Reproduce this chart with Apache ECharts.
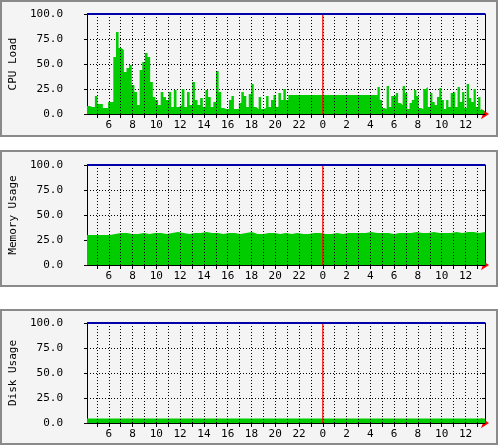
<!DOCTYPE html>
<html><head><meta charset="utf-8">
<script src="https://cdn.jsdelivr.net/npm/echarts@6/dist/echarts.min.js"></script>
<style>html,body{margin:0;padding:0;background:#fff}#c{width:500px;height:445px}</style>
</head><body><div id="c"></div>
<script>
const START_HOUR = 4.17;
const END_HOUR = 37.64;
const MIDNIGHT = 24;
const hourTicks = [5,6,7,8,9,10,11,12,13,14,15,16,17,18,19,20,21,22,23,24,25,26,27,28,29,30,31,32,33,34,35,36,37];
const hourLabels = [6,8,10,12,14,16,18,20,22,24,26,28,30,32,34,36];
const panelTitles = ["CPU Load", "Memory Usage", "Disk Usage"];

// CPU load segments: [startHour, endHour, values]
const cpuMorning = [8,7,7,18,10,10,6,6,12,12,57,82,66,64,42,46,49,29,22,9,44,52,61,57,32,17,14,9,22,17,14,22,7,24,7,9,25,7,22,9,32,14,9,16,7,24,17,7,12,43,22,6,5];
const cpuEvening = [5,14,18,5,5,11,22,18,7,20,30,7,5,17,5,6,18,7,14,19,7,21,14,25,14];
const cpuNight = [19,19,19,19,19,19,19,19,19,19];
const cpuNextDay = [27,14,6,5,28,7,18,18,21,11,9,28,21,5,11,14,24,18,6,5,25,27,7,21,12,9,17,26,14,5,14,7,21,22,7,27,12,22,6,30,16,12,25,7,17,4,2];
const cpuSegments = [[4.17,15.9,cpuMorning],[15.9,21.1,cpuEvening],[21.1,28.6,cpuNight],[28.6,37.64,cpuNextDay]];
const memUsage = [30,30,30,30,31,32,32,31,31,32,31,32,32,31,32,33,32,31,32,32,33,32,32,31,32,32,31,32,33,31,31,32,32,31,
 32,31,32,31,31,32,32,31,31,32,31,32,32,32,32,33,32,32,32,31,32,32,32,33,32,32,33,32,32,32,33,32,33,33,32,33];
const diskUsage = [4.5,4.5,4.5,4.5,4.5,4.5,4.5,4.5,4.5,4.5,4.5,4.5,4.5,4.5,4.5,4.5,4.5,4.5,4.5,4.5];

function segPairs(segs){
  const out=[];
  segs.forEach(([a,b,arr])=>{const st=(b-a)/arr.length; arr.forEach((v,i)=>out.push([a+i*st,v]));});
  out.push([END_HOUR, out[out.length-1][1]]);
  return out;
}
const seriesData = [segPairs(cpuSegments), segPairs([[START_HOUR,END_HOUR,memUsage]]), segPairs([[START_HOUR,END_HOUR,diskUsage]])];

const panelTops = [14, 165, 323];
const boxes = [[1,1,135],[1,151,135],[1,310,134]];
const font = "DejaVu Sans Mono";

const grids=[], xAxes=[], yAxes=[], series=[];
panelTops.forEach((top,i)=>{
  grids.push({left:85, width:400, top:top, height:100});
  const base = {type:'value', gridIndex:i, min:START_HOUR, max:END_HOUR};
  xAxes.push(Object.assign({}, base, {
    z:3,
    axisLine:{show:true,lineStyle:{color:'#000',width:1}},
    axisTick:{show:true,length:4,customValues:hourTicks,lineStyle:{color:'#000'}},
    axisLabel:{fontFamily:font,fontSize:11,color:'#000',margin:6,customValues:hourLabels,
      formatter:v=>String(Math.round(v)%24)},
    splitLine:{show:true,lineStyle:{color:'#000',type:[1,2],width:1}}
  }));
  xAxes.push(Object.assign({}, base, {
    z:1,
    axisLine:{show:true,symbol:['none','arrow'],symbolSize:[8,8],symbolOffset:[0,4],lineStyle:{color:'#ff0000',width:1}},
    axisTick:{show:false},axisLabel:{show:false},splitLine:{show:false}
  }));
  yAxes.push({type:'value',gridIndex:i,min:0,max:100,interval:25,
    name:panelTitles[i],nameLocation:'middle',nameGap:64,
    nameTextStyle:{fontFamily:font,fontSize:11,color:'#000'},
    axisLine:{show:true,lineStyle:{color:'#000'}},
    axisTick:{show:true,length:3,lineStyle:{color:'#000'}},
    axisLabel:{fontFamily:font,fontSize:11,color:'#000',margin:24,formatter:v=>v.toFixed(1)},
    splitLine:{show:true,lineStyle:{color:'#000',type:[1,2]}}
  });
  yAxes.push({type:'value',gridIndex:i,min:0,max:100,interval:25,position:'right',
    axisLine:{show:true,lineStyle:{color:'#000'}},
    axisTick:{show:true,inside:true,length:3,lineStyle:{color:'#000'}},
    axisLabel:{show:false},splitLine:{show:false}});
  series.push({type:'line',xAxisIndex:2*i,yAxisIndex:2*i,data:seriesData[i],
    step:'end',symbol:'none',lineStyle:{width:0},areaStyle:{color:'#00cc00',opacity:1},z:2});
  series.push({type:'line',xAxisIndex:2*i,yAxisIndex:2*i,data:[[MIDNIGHT,0],[MIDNIGHT,100]],z:10,
    symbol:'none',color:'#ff0000',lineStyle:{color:'#ff0000',width:1.2}});
  series.push({type:'line',xAxisIndex:2*i,yAxisIndex:2*i,data:[[START_HOUR,100],[END_HOUR,100]],z:10,
    symbol:'none',color:'#0000aa',lineStyle:{color:'#0000aa',width:2}});
});

const chart = echarts.init(document.getElementById('c'),null,{renderer:'canvas'});
chart.setOption({
  animation:false, backgroundColor:'#fff',
  graphic: boxes.map(b=>({type:'rect',z:-10,shape:{x:b[0],y:b[1],width:496,height:b[2]},
    style:{fill:'#f4f4f4',stroke:'#8a8a8a',lineWidth:2}})),
  grid:grids, xAxis:xAxes, yAxis:yAxes, series:series
});
</script></body></html>
